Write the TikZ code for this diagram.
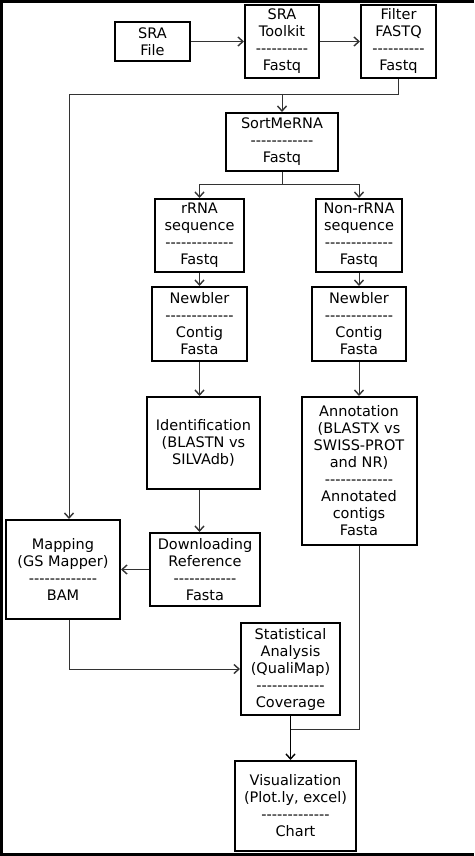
\documentclass[tikz,border=0pt]{standalone}
\usepackage{fontspec}
\setmainfont{DejaVu Sans}
\usepackage{tikz}
\usetikzlibrary{arrows.meta,shapes}
\tikzstyle{block} = [rectangle, draw, line width=2pt, align=center,
    text centered, inner sep=0pt]
\tikzstyle{line} = [draw, line width=0.8pt, color=black!80,
    -{Straight Barb[length=5pt,width=9pt,line width=1.4pt]}]
\tikzstyle{link} = [draw, line width=0.8pt, color=black!80]
\newcommand{\sepline}[1]{\foreach \k in {1,...,#1}{-\kern0pt}}

\begin{document}
\begin{tikzpicture}[node distance = 2cm]
  \fontsize{14.5}{17}\selectfont
  \useasboundingbox (0,0) rectangle (474pt,-856pt);
  % frame
  \draw [line width=3pt] (474pt,-1.5pt) -- (1.5pt,-1.5pt) -- (1.5pt,-854.5pt) -- (474pt,-854.5pt);

    % Place nodes
    \node [block, minimum width=75pt, minimum height=39pt] (sraFile) at (152.5pt,-41.5pt) {SRA\\File};
    \node [block, right of=sraFile, node distance=129.5pt, minimum width=74pt, minimum height=73pt] (toolkit) {SRA\\Toolkit\\\sepline{10}\\Fastq};
    \node [block, right of=toolkit, node distance=116.5pt, minimum width=75pt, minimum height=73pt] (filter) {Filter\\FASTQ\\\sepline{10}\\Fastq};
    \node [block, below of=toolkit, node distance=100.5pt, minimum width=112pt, minimum height=58pt] (sortMe) {SortMeRNA\\\sepline{12}\\Fastq};
    \node [block, below of=sortMe, node distance=93.5pt, xshift=-82.5pt, minimum width=89pt, minimum height=73pt] (rRna) {rRNA\\sequence\\\sepline{13}\\Fastq};
    \node [block, right of=rRna, node distance=159.5pt, minimum width=86pt, minimum height=73pt] (nonRna) {Non-rRNA\\sequence\\\sepline{13}\\Fastq};
    \node [block, below of=rRna, node distance=88.5pt, minimum width=95pt, minimum height=74pt] (newblerL) {Newbler\\\sepline{13}\\Contig\\Fasta};
    \node [block, below of=nonRna, node distance=88.5pt, minimum width=94pt, minimum height=74pt] (newblerR) {Newbler\\\sepline{13}\\Contig\\Fasta};
    \node [block, below of=newblerL, node distance=119pt, xshift=4pt, minimum width=113pt, minimum height=92pt] (identify) {Identification\\(BLASTN vs\\SILVAdb)};
    \node [block, below of=newblerR, node distance=147pt, minimum width=115pt, minimum height=148pt] (annotate) {Annotation\\(BLASTX vs\\SWISS-PROT\\and NR)\\\sepline{13}\\Annotated\\contigs\\Fasta};
    \node [block, below of=identify, node distance=126.5pt, xshift=1.5pt, minimum width=110pt, minimum height=73pt] (download) {Downloading\\Reference\\\sepline{12}\\Fasta};
    \node [block, left of=download, node distance=142pt, minimum width=114pt, minimum height=99pt] (mapping) {Mapping\\(GS Mapper)\\\sepline{13}\\BAM};
    \node [block, below of=download, node distance=99.5pt, xshift=85.5pt, minimum width=99pt, minimum height=92pt] (stats) {Statistical\\Analysis\\(QualiMap)\\\sepline{13}\\Coverage};
    \node [block, below of=stats, node distance=137pt, xshift=5pt, minimum width=121pt, minimum height=90pt] (visual) {Visualization\\(Plot.ly, excel)\\\sepline{13}\\Chart};

    % junctions
    \coordinate [below of=filter, node distance=52.5pt] (jFilter);
    \coordinate [below of=sortMe, node distance=42pt] (jSort);
    \coordinate [below of=stats, node distance=60pt] (jVisual);

    % Draw edges
    \path [line] (sraFile) -- (toolkit);
    \path [line] (toolkit) -- (filter);
    \path [link] (filter) -- (jFilter);
    \path [line] (jFilter) -| ([xshift=6pt]mapping.north);
    \path [line] (jFilter -| sortMe) -- (sortMe);
    \path [link] (sortMe) -- (jSort);
    \path [line] (jSort) -| (rRna);
    \path [line] (jSort) -| (nonRna);
    \path [line] (rRna) -- (newblerL);
    \path [line] (nonRna) -- (newblerR);
    \path [line] (newblerL) -- (newblerL |- identify.north);
    \path [line] (identify.south -| newblerL) -- (download.north -| newblerL);
    \path [line] (newblerR) -- (newblerR |- annotate.north);
    \path [line] (download.west) -- (mapping.east |- download.west);
    \path [line] ([xshift=6pt]mapping.south) |- (stats);
    \path [link] (annotate.south) |- (jVisual);
    \path [line, line width=1.8pt, color=black] (stats.south) -- (stats.south |- visual.north);
\end{tikzpicture}
\end{document}
